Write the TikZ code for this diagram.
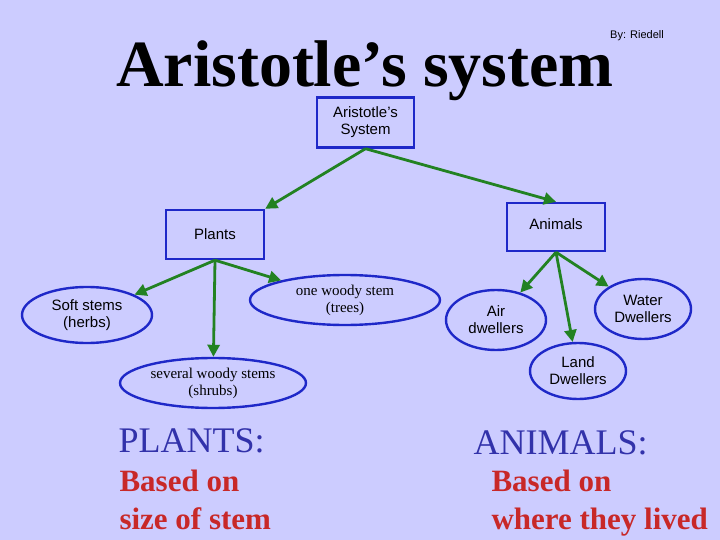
\documentclass[tikz,border=0pt]{standalone}
\usepackage{fontspec}
\setmainfont{Liberation Serif}
\setsansfont{Liberation Sans}
\usetikzlibrary{shapes.geometric,arrows.meta}
\definecolor{bg}{RGB}{204,204,255}
\definecolor{bord}{RGB}{30,40,200}
\definecolor{arr}{RGB}{34,130,34}
\definecolor{ptitle}{RGB}{50,50,170}
\definecolor{based}{RGB}{200,40,40}
\begin{document}
\begin{tikzpicture}[x=1pt,y=-1pt,
  boxn/.style={draw=bord,line width=2.4pt,fill=bg,minimum width=97pt,minimum height=50pt,font=\sffamily\fontsize{15}{17}\selectfont,align=center},
  elln/.style={ellipse,draw=bord,line width=2.4pt,fill=bg,inner sep=0pt,font=\sffamily\fontsize{15}{17}\selectfont,align=center},
  con/.style={draw=arr,line width=2.8pt,-{Triangle[length=12pt,width=12pt]}},
  head/.style={anchor=base west,text=ptitle,font=\fontsize{36}{38}\selectfont},
  bas/.style={anchor=base west,text=based,font=\bfseries\fontsize{31}{34}\selectfont}]
\fill[bg] (0,0) rectangle (720,540);
\node[anchor=base,font=\bfseries\fontsize{66}{68}\selectfont] (title) at (365,87) {Aristotle’s system};
\node[anchor=base,font=\sffamily\fontsize{11}{12}\selectfont] (by) at (637,39) {By: Riedell};
\node[boxn] (root) at (365.5,122.5) {Aristotle's\\System};
\node[boxn,minimum height=49pt,minimum width=98pt] (plants) at (215,234.5) {Plants};
\node[boxn,minimum height=48pt,minimum width=98pt] (animals) at (556,227) {\raisebox{6pt}{Animals}};
\node[elln,minimum width=130pt,minimum height=56pt] (soft) at (87,315) {Soft stems\\(herbs)};
\node[elln,minimum width=190pt,minimum height=50pt,font=\fontsize{15}{17}\selectfont] (woody) at (345,300) {one woody stem\\(trees)};
\node[elln,minimum width=186pt,minimum height=50pt,font=\fontsize{15}{17}\selectfont] (several) at (213,383) {several woody stems\\(shrubs)};
\node[elln,minimum width=100pt,minimum height=60pt] (air) at (496,320) {Air\\dwellers};
\node[elln,minimum width=96pt,minimum height=60pt] (water) at (643,309) {Water\\Dwellers};
\node[elln,minimum width=96pt,minimum height=56pt] (land) at (578,371) {Land\\Dwellers};
\draw[con] (root.south) -- (plants.north east);
\draw[con] (root.south) -- (animals.north);
\draw[con] (plants.south) -- (soft);
\draw[con] (plants.south) -- (woody);
\draw[con] (plants.south) -- (several);
\draw[con] (animals.south) -- (air);
\draw[con] (animals.south) -- (water);
\draw[con] (animals.south) -- (land);
\node[head] (ph) at (115,452) {PLANTS:};
\node[head] (ah) at (470,454) {ANIMALS:};
\node[bas] (pb1) at (116,491) {Based on};
\node[bas] (pb2) at (116,529) {size of stem};
\node[bas] (ab1) at (488,491) {Based on};
\node[bas] (ab2) at (488,529) {where they lived};
\end{tikzpicture}
\end{document}
